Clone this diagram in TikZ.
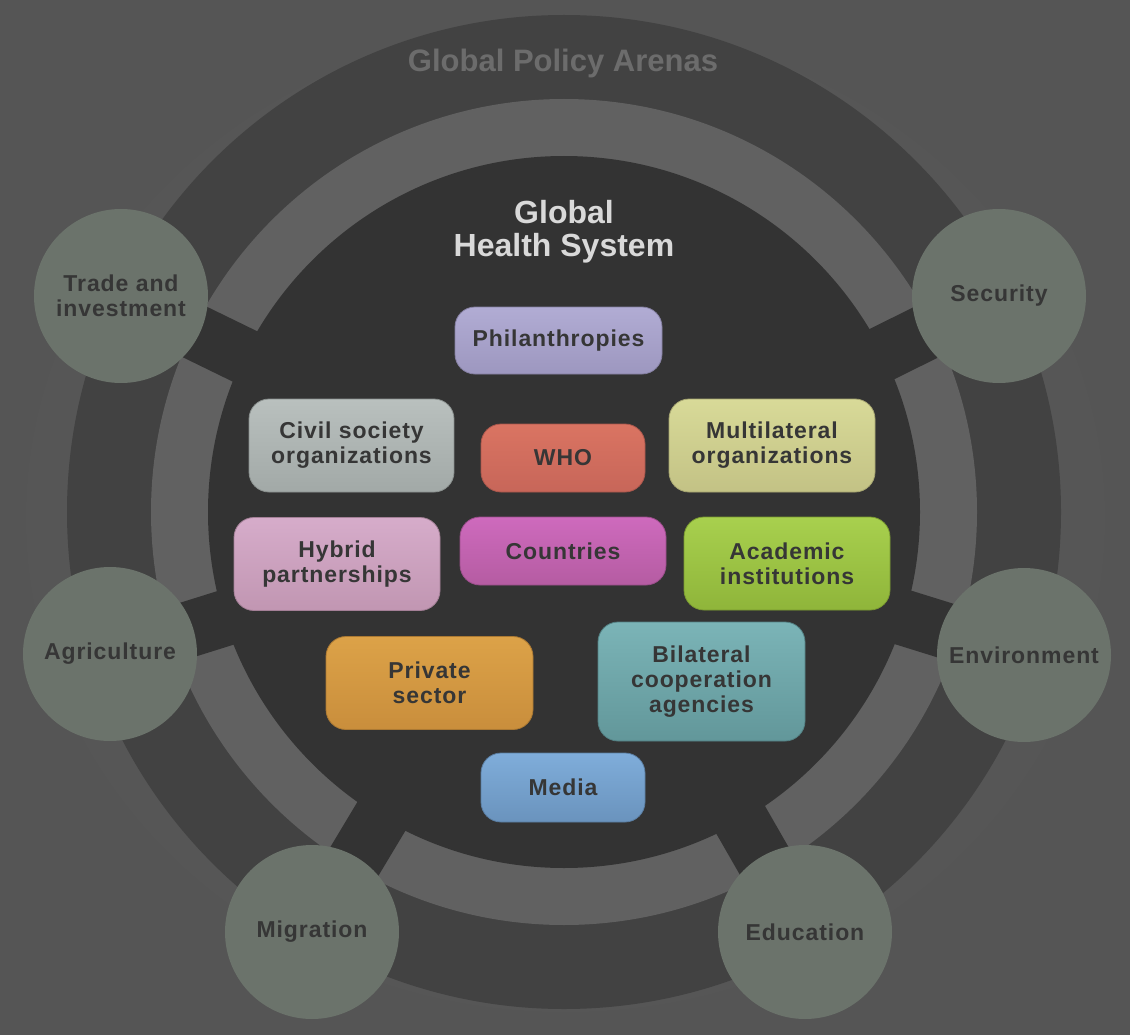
\documentclass[tikz,border=0pt]{standalone}
\usepackage{fontspec}
\setmainfont{Liberation Sans}
\newfontfamily\lblfont{Liberation Sans}[LetterSpace=4.0]
\pgfdeclarelayer{back}
\pgfdeclarelayer{spokes}
\pgfsetlayers{back,spokes,main}
\definecolor{bgin}{HTML}{606060}
\definecolor{bgout}{HTML}{555555}
\definecolor{darkring}{HTML}{424242}
\definecolor{lightring}{HTML}{616161}
\definecolor{core}{HTML}{333333}
\definecolor{arenafill}{HTML}{6B736B}
\definecolor{inktext}{HTML}{363636}
\definecolor{arenatitle}{HTML}{6C6C6C}
\definecolor{systitle}{HTML}{D9D9D9}
\definecolor{philA}{HTML}{B1ACD4}\definecolor{philB}{HTML}{9D97BF}
\definecolor{civilA}{HTML}{B9C0BE}\definecolor{civilB}{HTML}{A2A9A7}
\definecolor{whoA}{HTML}{DA7462}\definecolor{whoB}{HTML}{C76659}
\definecolor{multiA}{HTML}{D8DA98}\definecolor{multiB}{HTML}{C3C285}
\definecolor{hybridA}{HTML}{D6ACCA}\definecolor{hybridB}{HTML}{C196B2}
\definecolor{countriesA}{HTML}{CE6ABD}\definecolor{countriesB}{HTML}{B55CA2}
\definecolor{academicA}{HTML}{A8D04E}\definecolor{academicB}{HTML}{8FB53A}
\definecolor{privateA}{HTML}{DCA248}\definecolor{privateB}{HTML}{C98E3C}
\definecolor{bilateralA}{HTML}{7BB4B7}\definecolor{bilateralB}{HTML}{62979A}
\definecolor{mediaA}{HTML}{7FADDA}\definecolor{mediaB}{HTML}{6A93BD}

\begin{document}
\begin{tikzpicture}[x=1pt, y=-1pt,
  arena/.style={circle, fill=arenafill, minimum size=174pt, inner sep=0pt,
    align=center, text=inktext, font=\lblfont\bfseries\fontsize{23}{25}\selectfont},
  actor/.style={rounded corners=20pt, top color=#1A, bottom color=#1B,
    draw=#1B!85!black, line width=0.8pt, inner sep=0pt, align=center,
    text=inktext, font=\lblfont\bfseries\fontsize{23}{25}\selectfont},
  spoke/.style={core, line width=56pt}]
\useasboundingbox (0,0) rectangle (1130,1035);
\begin{pgfonlayer}{back}
\shade[inner color=bgin, outer color=bgout] (0,0) rectangle (1130,1035);
\coordinate (ctr) at (564,512);
\fill[darkring] (ctr) circle (497pt);
\fill[lightring] (ctr) circle (413pt);
\fill[core] (ctr) circle (356pt);
\end{pgfonlayer}

\node[anchor=base, text=arenatitle, font=\bfseries\fontsize{31}{33}\selectfont] (arenas) at (563,72) {Global Policy Arenas};
\node[align=center, inner sep=0pt, text=systitle, font=\bfseries\fontsize{32}{33}\selectfont] (system) at (564,232) {Global\\Health System};

\node[arena] (trade) at (121,296) {Trade and\\investment};
\node[arena] (security) at (999,296) {Security};
\node[arena] (agri) at (110,654) {Agriculture};
\node[arena] (env) at (1024,655) {Environment};
\node[arena] (migr) at (312,932) {Migration};
\node[arena] (edu) at (805,932) {Education};

\begin{pgfonlayer}{spokes}
\foreach \a in {trade,security,agri,env,migr,edu}
  \draw[spoke] (ctr) -- (\a.center);
\end{pgfonlayer}

\node[actor=phil, minimum width=207pt, minimum height=67pt] (phil) at (558.5,340.5) {Philanthropies};
\node[actor=civil, minimum width=205pt, minimum height=93pt] (civil) at (351.5,445.5) {Civil society\\organizations};
\node[actor=who, minimum width=164pt, minimum height=68pt] (who) at (563,458) {WHO};
\node[actor=multi, minimum width=206pt, minimum height=93pt] (multi) at (772,445.5) {Multilateral\\organizations};
\node[actor=hybrid, minimum width=206pt, minimum height=93pt] (hybrid) at (337,564) {Hybrid\\partnerships};
\node[actor=countries, minimum width=206pt, minimum height=68pt] (countries) at (563,551) {Countries};
\node[actor=academic, minimum width=206pt, minimum height=93pt] (academic) at (787,563.5) {Academic\\institutions};
\node[actor=private, minimum width=207pt, minimum height=93pt] (private) at (429.5,683) {Private\\sector};
\node[actor=bilateral, minimum width=207pt, minimum height=119pt] (bilateral) at (701.5,681.5) {Bilateral\\cooperation\\agencies};
\node[actor=media, minimum width=164pt, minimum height=69pt] (media) at (563,787.5) {Media};
\end{tikzpicture}
\end{document}
